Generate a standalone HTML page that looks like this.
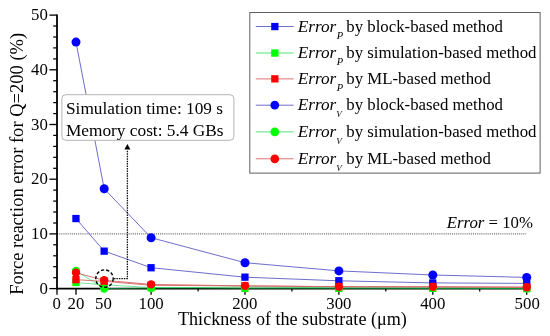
<!DOCTYPE html><html><head><meta charset="utf-8"><title>Force reaction error</title>
<style>html,body{margin:0;padding:0;background:#fff}svg{display:block}text{font-family:"Liberation Serif","DejaVu Serif",serif;fill:#000}</style></head><body>
<svg width="550" height="336" viewBox="0 0 550 336">
<rect width="550" height="336" fill="#fff"/>
<line x1="57.2" y1="233.9" x2="526.2" y2="233.9" stroke="#444" stroke-width="1" stroke-dasharray="1 1.1"/>
<line x1="57.0" y1="14.5" x2="57.0" y2="289.5" stroke="#000" stroke-width="1.8"/>
<line x1="56.1" y1="288.6" x2="527.3" y2="288.6" stroke="#000" stroke-width="1.8"/>
<line x1="49.4" y1="288.6" x2="57.0" y2="288.6" stroke="#000" stroke-width="1.3"/>
<text x="47.800000000000004" y="293.7" font-size="16.8" text-anchor="end">0</text>
<line x1="49.4" y1="233.9" x2="57.0" y2="233.9" stroke="#000" stroke-width="1.3"/>
<text x="47.800000000000004" y="239.0" font-size="16.8" text-anchor="end">10</text>
<line x1="49.4" y1="179.2" x2="57.0" y2="179.2" stroke="#000" stroke-width="1.3"/>
<text x="47.800000000000004" y="184.3" font-size="16.8" text-anchor="end">20</text>
<line x1="49.4" y1="124.5" x2="57.0" y2="124.5" stroke="#000" stroke-width="1.3"/>
<text x="47.800000000000004" y="129.6" font-size="16.8" text-anchor="end">30</text>
<line x1="49.4" y1="69.8" x2="57.0" y2="69.8" stroke="#000" stroke-width="1.3"/>
<text x="47.800000000000004" y="74.9" font-size="16.8" text-anchor="end">40</text>
<line x1="49.4" y1="15.1" x2="57.0" y2="15.1" stroke="#000" stroke-width="1.3"/>
<text x="47.800000000000004" y="20.2" font-size="16.8" text-anchor="end">50</text>
<line x1="53.2" y1="277.7" x2="57.0" y2="277.7" stroke="#000" stroke-width="1.25"/>
<line x1="53.2" y1="266.7" x2="57.0" y2="266.7" stroke="#000" stroke-width="1.25"/>
<line x1="53.2" y1="255.8" x2="57.0" y2="255.8" stroke="#000" stroke-width="1.25"/>
<line x1="53.2" y1="244.8" x2="57.0" y2="244.8" stroke="#000" stroke-width="1.25"/>
<line x1="53.2" y1="223.0" x2="57.0" y2="223.0" stroke="#000" stroke-width="1.25"/>
<line x1="53.2" y1="212.0" x2="57.0" y2="212.0" stroke="#000" stroke-width="1.25"/>
<line x1="53.2" y1="201.1" x2="57.0" y2="201.1" stroke="#000" stroke-width="1.25"/>
<line x1="53.2" y1="190.1" x2="57.0" y2="190.1" stroke="#000" stroke-width="1.25"/>
<line x1="53.2" y1="168.3" x2="57.0" y2="168.3" stroke="#000" stroke-width="1.25"/>
<line x1="53.2" y1="157.3" x2="57.0" y2="157.3" stroke="#000" stroke-width="1.25"/>
<line x1="53.2" y1="146.4" x2="57.0" y2="146.4" stroke="#000" stroke-width="1.25"/>
<line x1="53.2" y1="135.4" x2="57.0" y2="135.4" stroke="#000" stroke-width="1.25"/>
<line x1="53.2" y1="113.6" x2="57.0" y2="113.6" stroke="#000" stroke-width="1.25"/>
<line x1="53.2" y1="102.6" x2="57.0" y2="102.6" stroke="#000" stroke-width="1.25"/>
<line x1="53.2" y1="91.7" x2="57.0" y2="91.7" stroke="#000" stroke-width="1.25"/>
<line x1="53.2" y1="80.7" x2="57.0" y2="80.7" stroke="#000" stroke-width="1.25"/>
<line x1="53.2" y1="58.9" x2="57.0" y2="58.9" stroke="#000" stroke-width="1.25"/>
<line x1="53.2" y1="47.9" x2="57.0" y2="47.9" stroke="#000" stroke-width="1.25"/>
<line x1="53.2" y1="37.0" x2="57.0" y2="37.0" stroke="#000" stroke-width="1.25"/>
<line x1="53.2" y1="26.0" x2="57.0" y2="26.0" stroke="#000" stroke-width="1.25"/>
<line x1="57.0" y1="288.6" x2="57.0" y2="294.8" stroke="#000" stroke-width="1.3"/>
<text x="56.7" y="308.6" font-size="16.8" text-anchor="middle">0</text>
<line x1="76.0" y1="288.6" x2="76.0" y2="294.8" stroke="#000" stroke-width="1.3"/>
<text x="76.0" y="308.6" font-size="16.8" text-anchor="middle">20</text>
<text x="103.4" y="308.6" font-size="16.8" text-anchor="middle">50</text>
<line x1="151.1" y1="288.6" x2="151.1" y2="294.8" stroke="#000" stroke-width="1.3"/>
<text x="151.1" y="308.6" font-size="16.8" text-anchor="middle">100</text>
<line x1="245.0" y1="288.6" x2="245.0" y2="294.8" stroke="#000" stroke-width="1.3"/>
<text x="244.8" y="308.6" font-size="16.8" text-anchor="middle">200</text>
<line x1="338.9" y1="288.6" x2="338.9" y2="294.8" stroke="#000" stroke-width="1.3"/>
<text x="338.9" y="308.6" font-size="16.8" text-anchor="middle">300</text>
<line x1="432.8" y1="288.6" x2="432.8" y2="294.8" stroke="#000" stroke-width="1.3"/>
<text x="432.8" y="308.6" font-size="16.8" text-anchor="middle">400</text>
<line x1="526.7" y1="288.6" x2="526.7" y2="294.8" stroke="#000" stroke-width="1.3"/>
<text x="527.2" y="308.6" font-size="16.8" text-anchor="middle">500</text>
<line x1="104.2" y1="288.6" x2="104.2" y2="291.5" stroke="#000" stroke-width="1.25"/>
<line x1="198.1" y1="288.6" x2="198.1" y2="291.5" stroke="#000" stroke-width="1.25"/>
<line x1="291.9" y1="288.6" x2="291.9" y2="291.5" stroke="#000" stroke-width="1.25"/>
<line x1="385.8" y1="288.6" x2="385.8" y2="291.5" stroke="#000" stroke-width="1.25"/>
<line x1="479.7" y1="288.6" x2="479.7" y2="291.5" stroke="#000" stroke-width="1.25"/>
<polyline points="76.0,218.6 104.2,251.1 151.1,267.7 245.0,277.2 338.9,280.8 432.8,282.9 526.7,283.4" fill="none" stroke="#5c5cc6" stroke-width="0.9"/>
<polyline points="76.0,282.6 104.2,284.8 151.1,287.5 245.0,288.4 338.9,288.3 432.8,288.3 526.7,288.6" fill="none" stroke="#00d848" stroke-width="0.9" stroke-opacity="0.6"/>
<polyline points="76.0,279.7 104.2,281.3 151.1,285.3 245.0,285.9 338.9,286.7 432.8,287.0 526.7,287.2" fill="none" stroke="#d86464" stroke-width="0.9"/>
<polyline points="76.0,42.1 104.2,188.8 151.1,237.7 245.0,262.7 338.9,270.9 432.8,275.0 526.7,277.4" fill="none" stroke="#5c5cc6" stroke-width="0.9"/>
<polyline points="76.0,270.9 104.2,288.6 151.1,288.1 245.0,287.0 338.9,287.8 432.8,288.1 526.7,288.3" fill="none" stroke="#00d848" stroke-width="0.9" stroke-opacity="0.6"/>
<polyline points="76.0,272.8 104.2,280.3 151.1,284.4 245.0,285.9 338.9,286.7 432.8,286.7 526.7,287.2" fill="none" stroke="#d86464" stroke-width="0.9"/>
<rect x="72.3" y="214.9" width="7.3" height="7.3" fill="#0000ff"/>
<rect x="100.5" y="247.5" width="7.3" height="7.3" fill="#0000ff"/>
<rect x="147.4" y="264.1" width="7.3" height="7.3" fill="#0000ff"/>
<rect x="241.3" y="273.5" width="7.3" height="7.3" fill="#0000ff"/>
<rect x="335.2" y="277.1" width="7.3" height="7.3" fill="#0000ff"/>
<rect x="429.1" y="279.3" width="7.3" height="7.3" fill="#0000ff"/>
<rect x="523.1" y="279.8" width="7.3" height="7.3" fill="#0000ff"/>
<rect x="72.3" y="278.9" width="7.3" height="7.3" fill="#00ff00"/>
<rect x="100.5" y="281.1" width="7.3" height="7.3" fill="#00ff00"/>
<rect x="147.4" y="283.9" width="7.3" height="7.3" fill="#00ff00"/>
<rect x="241.3" y="284.7" width="7.3" height="7.3" fill="#00ff00"/>
<rect x="335.2" y="284.7" width="7.3" height="7.3" fill="#00ff00"/>
<rect x="429.1" y="284.7" width="7.3" height="7.3" fill="#00ff00"/>
<rect x="523.1" y="285.0" width="7.3" height="7.3" fill="#00ff00"/>
<rect x="72.3" y="276.0" width="7.3" height="7.3" fill="#ff0000"/>
<rect x="100.5" y="277.7" width="7.3" height="7.3" fill="#ff0000"/>
<rect x="147.4" y="281.7" width="7.3" height="7.3" fill="#ff0000"/>
<rect x="241.3" y="282.2" width="7.3" height="7.3" fill="#ff0000"/>
<rect x="335.2" y="283.0" width="7.3" height="7.3" fill="#ff0000"/>
<rect x="429.1" y="283.3" width="7.3" height="7.3" fill="#ff0000"/>
<rect x="523.1" y="283.6" width="7.3" height="7.3" fill="#ff0000"/>
<circle cx="76.0" cy="42.1" r="4.5" fill="#0000ff"/>
<circle cx="104.2" cy="188.8" r="4.5" fill="#0000ff"/>
<circle cx="151.1" cy="237.7" r="4.5" fill="#0000ff"/>
<circle cx="245.0" cy="262.7" r="4.5" fill="#0000ff"/>
<circle cx="338.9" cy="270.9" r="4.5" fill="#0000ff"/>
<circle cx="432.8" cy="275.0" r="4.5" fill="#0000ff"/>
<circle cx="526.7" cy="277.4" r="4.5" fill="#0000ff"/>
<circle cx="76.0" cy="270.9" r="4.2" fill="#00ff00"/>
<circle cx="104.2" cy="288.6" r="4.2" fill="#00ff00"/>
<circle cx="151.1" cy="288.1" r="4.2" fill="#00ff00"/>
<circle cx="245.0" cy="287.0" r="4.2" fill="#00ff00"/>
<circle cx="338.9" cy="287.8" r="4.2" fill="#00ff00"/>
<circle cx="432.8" cy="288.1" r="4.2" fill="#00ff00"/>
<circle cx="526.7" cy="288.3" r="4.2" fill="#00ff00"/>
<circle cx="76.0" cy="272.8" r="4.2" fill="#ff0000"/>
<circle cx="104.2" cy="280.3" r="4.2" fill="#ff0000"/>
<circle cx="151.1" cy="284.4" r="4.2" fill="#ff0000"/>
<circle cx="245.0" cy="285.9" r="4.2" fill="#ff0000"/>
<circle cx="338.9" cy="286.7" r="4.2" fill="#ff0000"/>
<circle cx="432.8" cy="286.7" r="4.2" fill="#ff0000"/>
<circle cx="526.7" cy="287.2" r="4.2" fill="#ff0000"/>
<text x="292.4" y="324.9" font-size="18.1" text-anchor="middle">Thickness of the substrate (μm)</text>
<text transform="translate(23.4,163.8) rotate(-90)" font-size="18.55" text-anchor="middle">Force reaction error for Q=200 (%)</text>
<text x="533" y="228.4" font-size="16.8" text-anchor="end"><tspan font-style="italic">Error</tspan> = 10%</text>
<path d="M114,278.6 H127.4 V150" fill="none" stroke="#111" stroke-width="1.3" stroke-dasharray="1.5 0.95"/>
<path d="M127.4,144 l-3,5.6 h6 z" fill="#000"/>
<circle cx="104.5" cy="278.6" r="8.7" fill="none" stroke="#000" stroke-width="1.4" stroke-dasharray="3.3 2"/>
<rect x="61.9" y="94.7" width="172" height="45.6" rx="4" ry="4" fill="#fff" stroke="#b4b4b4" stroke-width="1"/>
<text x="66" y="113.6" font-size="17.3">Simulation time: 109 s</text>
<text x="66" y="136.2" font-size="17.3">Memory cost: 5.4 GBs</text>
<rect x="249.8" y="12.5" width="290.3" height="160.6" fill="#fff" stroke="#606060" stroke-width="1"/>
<line x1="255.8" y1="26.5" x2="293.6" y2="26.5" stroke="#5c5cc6" stroke-width="0.9"/>
<rect x="271.2" y="22.9" width="7.3" height="7.3" fill="#0000ff"/>
<text x="297.7" y="31.7" font-size="16.8"><tspan font-style="italic" font-size="17.2">Error</tspan><tspan font-style="italic" font-size="10.5" dy="7" dx="0.4">P</tspan><tspan dy="-7" dx="-0.9"> by block-based method</tspan></text>
<line x1="255.8" y1="53" x2="293.6" y2="53" stroke="#40dc68" stroke-width="0.9"/>
<rect x="271.2" y="49.4" width="7.3" height="7.3" fill="#00ff00"/>
<text x="297.7" y="58.2" font-size="16.8"><tspan font-style="italic" font-size="17.2">Error</tspan><tspan font-style="italic" font-size="10.5" dy="7" dx="0.4">P</tspan><tspan dy="-7" dx="-0.9"> by simulation-based method</tspan></text>
<line x1="255.8" y1="78.9" x2="293.6" y2="78.9" stroke="#d86464" stroke-width="0.9"/>
<rect x="271.2" y="75.2" width="7.3" height="7.3" fill="#ff0000"/>
<text x="297.7" y="84.1" font-size="16.8"><tspan font-style="italic" font-size="17.2">Error</tspan><tspan font-style="italic" font-size="10.5" dy="7" dx="0.4">P</tspan><tspan dy="-7" dx="-0.9"> by ML-based method</tspan></text>
<line x1="255.8" y1="105.2" x2="293.6" y2="105.2" stroke="#5c5cc6" stroke-width="0.9"/>
<circle cx="274.8" cy="105.2" r="4.35" fill="#0000ff"/>
<text x="297.7" y="110.4" font-size="16.8"><tspan font-style="italic" font-size="17.2">Error</tspan><tspan font-style="italic" font-size="9" dy="7" dx="0.0">V</tspan><tspan dy="-7" dx="0.4"> by block-based method</tspan></text>
<line x1="255.8" y1="131.9" x2="293.6" y2="131.9" stroke="#40dc68" stroke-width="0.9"/>
<circle cx="274.8" cy="131.9" r="4.35" fill="#00ff00"/>
<text x="297.7" y="137.1" font-size="16.8"><tspan font-style="italic" font-size="17.2">Error</tspan><tspan font-style="italic" font-size="9" dy="7" dx="0.0">V</tspan><tspan dy="-7" dx="0.4"> by simulation-based method</tspan></text>
<line x1="255.8" y1="158.8" x2="293.6" y2="158.8" stroke="#d86464" stroke-width="0.9"/>
<circle cx="274.8" cy="158.8" r="4.35" fill="#ff0000"/>
<text x="297.7" y="164.0" font-size="16.8"><tspan font-style="italic" font-size="17.2">Error</tspan><tspan font-style="italic" font-size="9" dy="7" dx="0.0">V</tspan><tspan dy="-7" dx="0.4"> by ML-based method</tspan></text>
</svg></body></html>
